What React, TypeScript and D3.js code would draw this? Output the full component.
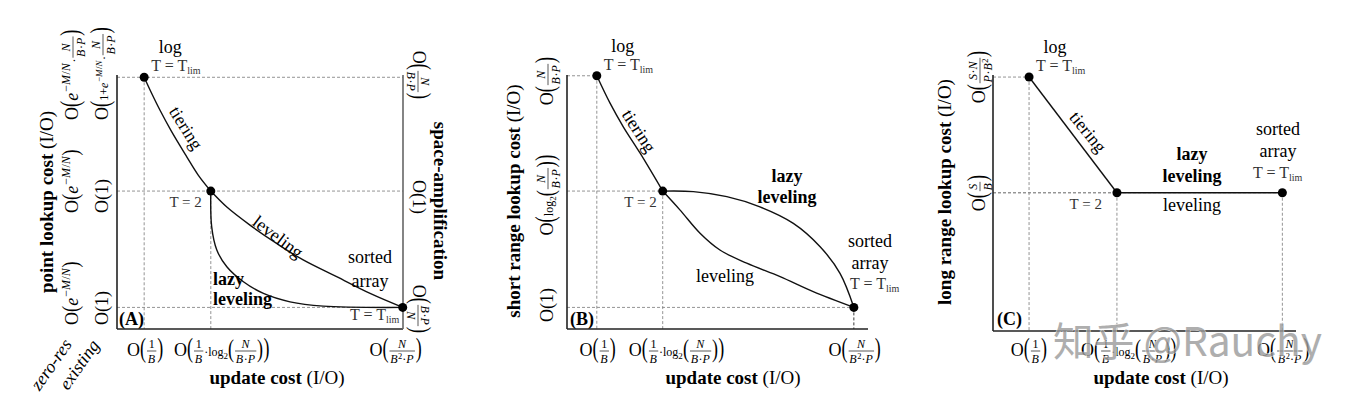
import React from "react";
import * as d3 from "d3";

const FONT = "'Liberation Serif', 'Times New Roman', serif";
const MAIN = 18;
const SMALL = 12;

// ---------------- data (abstract cost units, 0..100 on both axes) ----------------
const panelTags = ["(A)", "(B)", "(C)"];
const yTitles = ["point lookup cost", "short range lookup cost", "long range lookup cost"];
const xTitle = "update cost";
const unitText = "(I/O)";

// key designs: log (T = Tlim), T = 2, sorted array (T = Tlim)
const keyA = [[9.5, 99.1], [32.8, 54.3], [99.9, 8.5]];
const keyB = [[9.9, 99.7], [31.8, 54.3], [95.3, 8.5]];
const keyC = [[11.9, 99.2], [40.9, 54.0], [95.5, 54.0]];

const tieringA = [[9.5, 99.1], [12.1, 92.8], [15.0, 86.2], [19.1, 77.7], [24.4, 67.8], [28.4, 60.6], [32.8, 54.3]];
const levelingA = [[32.8, 54.3], [38.4, 48.0], [46.5, 40.9], [55.8, 33.7], [65.1, 27.2], [76.8, 20.6], [88.5, 14.0], [99.9, 8.5]];
const lazyA = [[32.8, 54.3], [33.1, 40.3], [34.9, 31.1], [38.4, 24.5], [44.2, 18.6], [51.2, 14.0], [60.5, 10.7], [72.1, 9.0], [99.9, 8.5]];

const tieringB = [[9.9, 99.7], [14.3, 88.9], [18.7, 79.6], [24.3, 69.2], [31.8, 54.3]];
const levelingB = [[31.8, 54.3], [37.5, 46.9], [44.2, 37.7], [50.8, 31.1], [59.7, 25.9], [70.8, 20.6], [81.8, 14.7], [95.3, 8.5]];
const lazyB = [[31.8, 54.3], [42.0, 54.1], [53.1, 52.1], [64.1, 48.1], [75.2, 41.6], [84.1, 32.4], [90.7, 21.9], [95.3, 8.5]];

const tieringC = [[11.9, 99.2], [40.9, 54.0]];
const levelingC = [[40.9, 54.0], [95.5, 54.0]];

// ---------------- tiny math typesetter ----------------
type Tok =
  | { t: string; sz?: number; it?: boolean; dy?: number }
  | { num: Tok[]; den: Tok[] }
  | { p: string; s: number };

const ctx = document.createElement("canvas").getContext("2d")!;
const cache: Record<string, number> = {};
function measure(t: string, sz: number, it = false, bold = false) {
  const key = `${t}|${sz}|${it}|${bold}`;
  if (cache[key] === undefined) {
    ctx.font = `${it ? "italic " : ""}${bold ? "bold " : ""}${sz}px ${FONT}`;
    cache[key] = ctx.measureText(t).width;
  }
  return cache[key];
}

const r = (t: string, o: any = {}): Tok => ({ t, sz: MAIN, ...o });
const sm = (t: string, o: any = {}): Tok => ({ t, sz: SMALL, ...o });
const P = (p: string, s = 1.5): Tok => ({ p, s });
const fr = (num: Tok[], den: Tok[]): Tok => ({ num, den });
// letters italic, ² as small superscript
const mi = (str: string, o: any = {}): Tok[] => {
  const sz = o.sz ?? SMALL;
  const dy = o.dy ?? 0;
  return Array.from(str).map((c) => {
    if (c === "²") return { t: "2", sz: sz * 0.7, dy: dy - 4 };
    return { t: c, sz, dy, it: /[A-Za-z]/.test(c) };
  });
};

const O_ = (...inner: Tok[]) => [r("O"), P("("), ...inner, P(")")];

const L_1B = O_(fr(mi("1"), mi("B")));
const L_logx = O_(fr(mi("1"), mi("B")), sm("·log"), { t: "2", sz: 9, dy: 3 }, P("(", 1.45), fr(mi("N"), mi("B·P")), P(")", 1.45));
const L_NB2P = O_(fr(mi("N"), mi("B²·P")));
const L_NBP = O_(fr(mi("N"), mi("B·P")));
const L_O1: Tok[] = [r("O(1)")];
const L_logy = O_(sm("log"), { t: "2", sz: 9, dy: 3 }, P("(", 1.45), fr(mi("N"), mi("B·P")), P(")", 1.45));
const L_e = [r("O"), P("(", 1.3), r("e", { it: true }), ...mi("−M/N", { sz: 12, dy: -8 }), P(")", 1.3)];
const L_eN = O_(r("e", { it: true }), ...mi("−M/N", { sz: 12, dy: -8 }), sm("·"), fr(mi("N"), mi("B·P")));
const L_1eN = O_(...mi("1+e", { sz: 12 }), ...mi("−M/N", { sz: 9, dy: -6 }), sm("·"), fr(mi("N"), mi("B·P")));
const L_BPN = O_(fr(mi("B·P"), mi("N")));
const L_SNPB = O_(fr(mi("S·N"), mi("P·B²")));
const L_SB = O_(fr(mi("S"), mi("B")));

const xTickLabels = [
  [L_1B, L_logx, L_NB2P],
  [L_1B, L_logx, L_NB2P],
  [L_1B, L_logx, L_NB2P],
];

type Item =
  | { k: "t"; x: number; y: number; t: string; sz: number; it?: boolean }
  | { k: "l"; x1: number; x2: number; y: number }
  | { k: "p"; x: number; y: number; t: string; s: number };

function place(toks: Tok[], x: number, yb: number, out: Item[]): number {
  for (const tk of toks) {
    if ("num" in tk) {
      const nw = place(tk.num, 0, 0, []);
      const dw = place(tk.den, 0, 0, []);
      const w = Math.max(nw, dw) + 3;
      place(tk.num, x + (w - nw) / 2, yb - 8, out);
      place(tk.den, x + (w - dw) / 2, yb + 6.5, out);
      out.push({ k: "l", x1: x + 0.8, x2: x + w - 0.8, y: yb - 5 });
      x += w;
    } else if ("p" in tk) {
      out.push({ k: "p", x, y: yb - 5, t: tk.p, s: tk.s });
      x += measure(tk.p, MAIN) + 0.3;
    } else {
      const sz = tk.sz ?? MAIN;
      out.push({ k: "t", x, y: yb + (tk.dy ?? 0), t: tk.t, sz, it: tk.it });
      x += measure(tk.t, sz, tk.it) + (tk.it ? sz * 0.05 : 0);
    }
  }
  return x;
}

const MathLabel = ({ toks, x, y, rot = 0, anchor = "start" }: any) => {
  const items: Item[] = [];
  const width = place(toks, 0, 0, items);
  const off = anchor === "middle" ? -width / 2 : anchor === "end" ? -width : 0;
  return (
    <g transform={`translate(${x},${y}) rotate(${rot}) translate(${off},0)`}>
      {items.map((it, i) => {
        if (it.k === "l")
          return <line key={i} x1={it.x1} x2={it.x2} y1={it.y} y2={it.y} stroke="#111" strokeWidth={0.7} />;
        if (it.k === "p")
          return (
            <text key={i} transform={`translate(${it.x},${it.y}) scale(1,${it.s})`} y={0.235 * MAIN} fontSize={MAIN}>
              {it.t}
            </text>
          );
        return (
          <text key={i} x={it.x} y={it.y} fontSize={it.sz} fontStyle={it.it ? "italic" : "normal"}>
            {it.t}
          </text>
        );
      })}
    </g>
  );
};

const Tlim = ({ x, y }: any) => (
  <text x={x} y={y} fontSize={16} fill="#333">
    T = T<tspan fontSize={10} dy={3}>lim</tspan>
  </text>
);

// ---------------- layout ----------------
const panels = [
  {
    frame: { x0: 117, x1: 403, y0: 329, y1: 75 },
    key: keyA,
    curves: [tieringA, levelingA, lazyA],
    rightAxis: true,
    fullGuides: true,
    vGuides: [0, 1],
    xTickDx: [1, 11, -7],
    t2dx: -9,
    yTitle: { x: 53, y: 202 },
    xTitleX: 277,
    tag: { x: 119, y: 325 },
    leftCols: [
      { x: 78, labels: [L_e, L_e, L_eN], ys: [325, 213, 120], anchor: "start" },
      { x: 108, labels: [L_O1, L_O1, L_1eN], ys: [325, 213, 120], anchor: "start" },
    ],
    texts: [
      { t: "tiering", x: 186, y: 128, rot: 58 },
      { t: "leveling", x: 278, y: 237, rot: 37 },
      { t: "sorted", x: 370, y: 263, anchor: "middle" },
      { t: "array", x: 370, y: 287, anchor: "middle" },
      { t: "lazy", x: 213, y: 285, bold: true },
      { t: "leveling", x: 213, y: 305, bold: true },
    ],
    sortedT: { x: 350, y: 320 },
  },
  {
    frame: { x0: 567, x1: 868, y0: 329, y1: 75 },
    key: keyB,
    curves: [tieringB, levelingB, lazyB],
    rightAxis: false,
    fullGuides: false,
    vGuides: [0, 1, 2],
    xTickDx: [1, 14, 1],
    t2dx: -6,
    yTitle: { x: 520, y: 201 },
    xTitleX: 733,
    tag: { x: 570, y: 325 },
    leftCols: [{ x: 553, labels: [L_O1, L_logy, L_NBP], ys: [305, 195, 81], anchor: "middle" }],
    texts: [
      { t: "tiering", x: 639, y: 131, rot: 57 },
      { t: "lazy", x: 787, y: 182, anchor: "middle", bold: true },
      { t: "leveling", x: 787, y: 203, anchor: "middle", bold: true },
      { t: "leveling", x: 725, y: 282, anchor: "middle" },
      { t: "sorted", x: 870, y: 247, anchor: "middle" },
      { t: "array", x: 870, y: 269, anchor: "middle" },
    ],
    sortedT: { x: 850, y: 289 },
  },
  {
    frame: { x0: 993, x1: 1296, y0: 331, y1: 75 },
    key: keyC,
    curves: [tieringC, levelingC],
    rightAxis: false,
    fullGuides: false,
    vGuides: [0, 1, 2],
    xTickDx: [0, 12, 1],
    t2dx: -15,
    yTitle: { x: 951, y: 192 },
    xTitleX: 1161,
    tag: { x: 997, y: 325 },
    leftCols: [{ x: 985, labels: [L_SB, L_SNPB], ys: [193, 77], anchor: "middle" }],
    texts: [
      { t: "tiering", x: 1088, y: 132, rot: 51 },
      { t: "lazy", x: 1192, y: 160, anchor: "middle", bold: true },
      { t: "leveling", x: 1192, y: 182, anchor: "middle", bold: true },
      { t: "leveling", x: 1192, y: 211, anchor: "middle" },
      { t: "sorted", x: 1278, y: 135, anchor: "middle" },
      { t: "array", x: 1278, y: 157, anchor: "middle" },
    ],
    sortedT: { x: 1253, y: 178 },
  },
];

const Panel = ({ cfg, idx }: any) => {
  const f = cfg.frame;
  const x = d3.scaleLinear().domain([0, 100]).range([f.x0, f.x1]);
  const y = d3.scaleLinear().domain([0, 100]).range([f.y0, f.y1]);
  const line = d3
    .line<number[]>()
    .x((d) => x(d[0]))
    .y((d) => y(d[1]))
    .curve(d3.curveCatmullRom.alpha(0.5));
  const [logP, t2P, sortP] = cfg.key;
  return (
    <g>
      {/* guides */}
      {cfg.key.map((k: number[], i: number) => (
        <line
          key={"h" + i}
          x1={x(0)}
          x2={cfg.fullGuides ? x(100) : x(k[0])}
          y1={y(k[1])}
          y2={y(k[1])}
          stroke="#888"
          strokeWidth={0.9}
          strokeDasharray="3,2"
        />
      ))}
      {cfg.vGuides.map((i: number) => (
        <line
          key={"v" + i}
          x1={x(cfg.key[i][0])}
          x2={x(cfg.key[i][0])}
          y1={y(cfg.key[i][1])}
          y2={y(0)}
          stroke={idx === 1 && i === 2 ? "#222" : "#888"}
          strokeWidth={0.9}
          strokeDasharray="3,2"
        />
      ))}
      {/* axes */}
      <line x1={x(0)} x2={x(0)} y1={y(100)} y2={y(0)} stroke="#222" strokeWidth={1.6} />
      <line x1={x(0)} x2={x(100)} y1={y(0)} y2={y(0)} stroke="#222" strokeWidth={1.6} />
      {cfg.rightAxis && <line x1={x(100)} x2={x(100)} y1={y(100)} y2={y(0)} stroke="#666" strokeWidth={1.6} />}
      {/* curves */}
      {cfg.curves.map((c: number[][], i: number) => (
        <path key={"c" + i} d={line(c) as string} fill="none" stroke="#111" strokeWidth={1.4} />
      ))}
      {cfg.key.map((k: number[], i: number) => (
        <circle key={"p" + i} cx={x(k[0])} cy={y(k[1])} r={4.5} fill="#000" />
      ))}
      {/* annotations */}
      <text x={x(logP[0]) + 26} y={y(logP[1]) - 24} fontSize={MAIN} textAnchor="middle">log</text>
      <Tlim x={x(logP[0]) + 7} y={y(logP[1]) - 6} />
      <text x={x(t2P[0]) + cfg.t2dx} y={y(t2P[1]) + 16} fontSize={15} textAnchor="end" fill="#333">T = 2</text>
      <Tlim x={cfg.sortedT.x} y={cfg.sortedT.y} />
      {cfg.texts.map((t: any, i: number) =>
        t.rot !== undefined ? (
          <text
            key={"t" + i}
            transform={`translate(${t.x},${t.y}) rotate(${t.rot})`}
            fontSize={MAIN}
            textAnchor="middle"
            dominantBaseline="central"
          >
            {t.t}
          </text>
        ) : (
          <text
            key={"t" + i}
            x={t.x}
            y={t.y}
            fontSize={MAIN}
            textAnchor={t.anchor || "start"}
            fontWeight={t.bold ? "bold" : "normal"}
          >
            {t.t}
          </text>
        )
      )}
      <text x={cfg.tag.x} y={cfg.tag.y} fontSize={18} fontWeight="bold">{panelTags[idx]}</text>
      {/* x tick labels */}
      {xTickLabels[idx].map((toks: Tok[], i: number) => (
        <MathLabel key={"xt" + i} toks={toks} x={x(cfg.key[i][0]) + cfg.xTickDx[i]} y={356} anchor="middle" />
      ))}
      {/* y tick labels */}
      {cfg.leftCols.map((col: any, ci: number) =>
        col.labels.map((toks: Tok[], i: number) => (
          <MathLabel key={"yt" + ci + i} toks={toks} x={col.x} y={col.ys[i]} rot={-90} anchor={col.anchor} />
        ))
      )}
      {/* titles */}
      <text x={cfg.xTitleX} y={384} fontSize={19} textAnchor="middle">
        <tspan fontWeight="bold">{xTitle}</tspan> {unitText}
      </text>
      <text transform={`translate(${cfg.yTitle.x},${cfg.yTitle.y}) rotate(-90)`} fontSize={19} textAnchor="middle">
        <tspan fontWeight="bold">{yTitles[idx]}</tspan> {unitText}
      </text>
    </g>
  );
};

export default function App() {
  return (
    <svg
      width={1355}
      height={399}
      style={{ position: "absolute", left: 0, top: 0, background: "#fff" }}
      fontFamily={FONT}
    >
      <rect width={1355} height={399} fill="#fff" />
      {panels.map((p, i) => (
        <Panel key={i} cfg={p} idx={i} />
      ))}
      {/* panel A right axis: space amplification */}
      <MathLabel toks={L_NBP} x={413} y={75} rot={90} anchor="middle" />
      <MathLabel toks={L_O1} x={413} y={197} rot={90} anchor="middle" />
      <MathLabel toks={L_BPN} x={413} y={309} rot={90} anchor="middle" />
      <text transform="translate(434,201) rotate(90)" fontSize={19} fontWeight="bold" textAnchor="middle">
        space-amplification
      </text>
      <text transform="translate(56,368) rotate(-55)" fontSize={18} fontStyle="italic" textAnchor="middle">
        zero-res
      </text>
      <text transform="translate(84,368) rotate(-55)" fontSize={18} fontStyle="italic" textAnchor="middle">
        existing
      </text>
      {/* watermark */}
      <text
        x={1053}
        y={356}
        fontFamily="'Noto Sans CJK SC', sans-serif"
        fontSize={40}
        fill="#9a9a9a"
        opacity={0.8}
        stroke="#fff"
        strokeWidth={1}
        paintOrder="stroke"
        textLength={269}
        lengthAdjust="spacingAndGlyphs"
      >
        知乎 @Rauchy
      </text>
    </svg>
  );
}
